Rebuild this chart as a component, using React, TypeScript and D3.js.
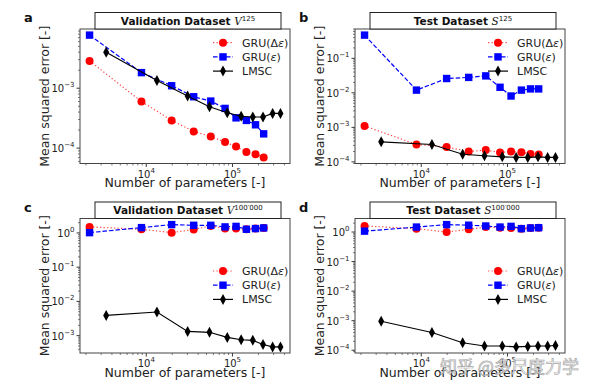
import React, { useRef, useEffect } from "react";
import * as d3 from "d3";

// number of parameters (x) for both model families
const paramsGru = [2.2e3, 8.8e3, 1.97e4, 3.55e4, 5.6e4, 8.2e4, 1.1e5, 1.45e5, 1.85e5, 2.3e5];
const paramsLmsc = [3.43e3, 1.33e4, 3.02e4, 5.41e4, 8.7e4, 1.26e5, 1.72e5, 2.26e5, 2.92e5, 3.6e5];

// a: validation V125
const valShortDe = [2.85e-3, 6.0e-4, 2.9e-4, 1.9e-4, 1.56e-4, 1.26e-4, 1.06e-4, 8.6e-5, 7.9e-5, 7.0e-5];
const valShortE = [7.7e-3, 1.82e-3, 1.1e-3, 7.2e-4, 6.1e-4, 4.6e-4, 3.2e-4, 2.9e-4, 2.45e-4, 1.73e-4];
const valShortLmsc = [4.0e-3, 1.34e-3, 7.4e-4, 4.9e-4, 3.9e-4, 3.4e-4, 3.3e-4, 3.3e-4, 3.8e-4, 3.8e-4];

// b: test S125
const testShortDe = [1.1e-3, 3.2e-4, 2.7e-4, 2.0e-4, 2.2e-4, 1.87e-4, 2.0e-4, 1.9e-4, 1.7e-4, 1.65e-4];
const testShortE = [0.47, 1.2e-2, 2.6e-2, 2.8e-2, 3.1e-2, 1.45e-2, 8.1e-3, 1.2e-2, 1.3e-2, 1.3e-2];
const testShortLmsc = [3.8e-4, 3.2e-4, 1.66e-4, 1.5e-4, 1.4e-4, 1.35e-4, 1.35e-4, 1.4e-4, 1.35e-4, 1.35e-4];

// c: validation V100'000
const valLongDe = [1.5, 1.28, 1.02, 1.26, 1.6, 1.34, 1.34, 1.28, 1.34, 1.4];
const valLongE = [1.02, 1.43, 1.75, 1.67, 1.67, 1.5, 1.55, 1.28, 1.34, 1.4];
const valLongLmsc = [3.9e-3, 4.9e-3, 1.33e-3, 1.25e-3, 8.9e-4, 7.6e-4, 7.3e-4, 5.5e-4, 4.7e-4, 4.7e-4];

// d: test S100'000
const testLongDe = [1.6, 1.3, 1.0, 1.23, 1.47, 1.4, 1.37, 1.3, 1.37, 1.4];
const testLongE = [1.07, 1.47, 1.78, 1.7, 1.6, 1.47, 1.55, 1.3, 1.37, 1.4];
const testLongLmsc = [9.6e-4, 4.0e-4, 1.8e-4, 1.4e-4, 1.4e-4, 1.3e-4, 1.35e-4, 1.4e-4, 1.4e-4, 1.45e-4];

const xLabel = "Number of parameters [-]";
const yLabel = "Mean squared error [-]";

const panels = [
  { id: "a", left: 80, top: 29, name: "Validation Dataset ", sym: "V", sup: "125", de: valShortDe, e: valShortE, lmsc: valShortLmsc, legTop: 42.7 },
  { id: "b", left: 355, top: 29, name: "Test Dataset ", sym: "S", sup: "125", de: testShortDe, e: testShortE, lmsc: testShortLmsc, legTop: 42.7 },
  { id: "c", left: 80, top: 218.5, name: "Validation Dataset ", sym: "V", sup: "100\u2032000", de: valLongDe, e: valLongE, lmsc: valLongLmsc, legTop: 271 },
  { id: "d", left: 355, top: 218.5, name: "Test Dataset ", sym: "S", sup: "100\u2032000", de: testLongDe, e: testLongE, lmsc: testLongLmsc, legTop: 271 },
];

const W = 210;
const H = 134.5;
const font = "DejaVu Sans, sans-serif";

// log domain with matplotlib-like 5% margin
function logDomain(vals: number[]) {
  const lo = Math.log10(d3.min(vals)!);
  const hi = Math.log10(d3.max(vals)!);
  const m = (hi - lo) * 0.05;
  return [Math.pow(10, lo - m), Math.pow(10, hi + m)];
}

function supLabel(sel: any, exp: number) {
  sel.append("tspan").text("10");
  sel.append("tspan").attr("dy", -5).attr("font-size", "7px")
    .text(exp < 0 ? "\u2212" + Math.abs(exp) : String(exp));
}

function App() {
  const svgRef = useRef<SVGSVGElement>(null);

  useEffect(() => {
    const svg = d3.select(svgRef.current);
    svg.selectAll("*").remove();

    const xDom = logDomain([...paramsGru, ...paramsLmsc]);

    panels.forEach((p) => {
      const g = svg.append("g").attr("transform", `translate(${p.left},${p.top})`);
      const x = d3.scaleLog().domain(xDom).range([0, W]);
      const y = d3.scaleLog().domain(logDomain([...p.de, ...p.e, ...p.lmsc])).range([H, 0]);

      // ticks
      const [x0, x1] = x.domain().map(Math.log10);
      for (let k = Math.floor(x0); k <= Math.ceil(x1); k++) {
        for (let s = 1; s < 10; s++) {
          const v = s * Math.pow(10, k);
          if (Math.log10(v) < x0 || Math.log10(v) > x1) continue;
          const len = s === 1 ? 3.5 : 2;
          g.append("line").attr("x1", x(v)).attr("x2", x(v)).attr("y1", H).attr("y2", H + len)
            .attr("stroke", "#222").attr("stroke-width", s === 1 ? 0.9 : 0.6);
          if (s === 1) {
            const t = g.append("text").attr("x", x(v)).attr("y", H + 14).attr("text-anchor", "middle")
              .attr("font-family", font).attr("font-size", "10px").attr("fill", "#222");
            supLabel(t, k);
          }
        }
      }
      const [y0, y1] = y.domain().map(Math.log10);
      for (let k = Math.floor(y0); k <= Math.ceil(y1); k++) {
        for (let s = 1; s < 10; s++) {
          const v = s * Math.pow(10, k);
          if (Math.log10(v) < y0 || Math.log10(v) > y1) continue;
          const len = s === 1 ? 3.5 : 2;
          g.append("line").attr("x1", 0).attr("x2", -len).attr("y1", y(v)).attr("y2", y(v))
            .attr("stroke", "#222").attr("stroke-width", s === 1 ? 0.9 : 0.6);
          if (s === 1) {
            const t = g.append("text").attr("x", -5.5).attr("y", y(v) + 4).attr("text-anchor", "end")
              .attr("font-family", font).attr("font-size", "10px").attr("fill", "#222");
            supLabel(t, k);
          }
        }
      }

      const series = [
        { xs: paramsGru, ys: p.de, color: "#ff0000", dash: "1.3,2.2", marker: "circle" },
        { xs: paramsGru, ys: p.e, color: "#0000ff", dash: "4.5,2", marker: "square" },
        { xs: paramsLmsc, ys: p.lmsc, color: "#000000", dash: null, marker: "diamond" },
      ];
      const line = d3.line<[number, number]>().x((d) => x(d[0])).y((d) => y(d[1]));

      const drawMarker = (sel: any, kind: string, cx: number, cy: number, color: string) => {
        if (kind === "circle") sel.append("circle").attr("cx", cx).attr("cy", cy).attr("r", 4).attr("fill", color);
        else if (kind === "square") sel.append("rect").attr("x", cx - 3.7).attr("y", cy - 3.7).attr("width", 7.4).attr("height", 7.4).attr("fill", color);
        else sel.append("path").attr("d", `M${cx},${cy - 5.5}L${cx + 3},${cy}L${cx},${cy + 5.5}L${cx - 3},${cy}Z`).attr("fill", color);
      };

      series.forEach((s) => {
        const pts = s.xs.map((v, i) => [v, s.ys[i]] as [number, number]);
        g.append("path").attr("d", line(pts)).attr("fill", "none").attr("stroke", s.color)
          .attr("stroke-width", s.dash ? 1.2 : 1.1).attr("stroke-dasharray", s.dash)
          .attr("opacity", s.marker === "circle" ? 0.7 : 1);
        pts.forEach((d) => drawMarker(g, s.marker, x(d[0]), y(d[1]), s.color));
      });

      // frame
      g.append("rect").attr("width", W).attr("height", H).attr("fill", "none")
        .attr("stroke", "#444").attr("stroke-width", 1);

      // legend
      const names = ["GRU(\u0394", "GRU(", "LMSC"];
      series.forEach((s, i) => {
        const ly = p.legTop - p.top + i * 14.2;
        g.append("line").attr("x1", 133).attr("x2", 153).attr("y1", ly).attr("y2", ly)
          .attr("stroke", s.color).attr("stroke-width", 1.2).attr("stroke-dasharray", s.dash)
          .attr("opacity", s.marker === "circle" ? 0.7 : 1);
        drawMarker(g, s.marker, 143, ly, s.color);
        const t = g.append("text").attr("x", 162).attr("y", ly + 4).attr("font-family", font)
          .attr("font-size", "11px").attr("fill", "#222");
        t.append("tspan").text(names[i]);
        if (i < 2) {
          t.append("tspan").attr("font-style", "italic").text("\u03b5");
          t.append("tspan").text(")");
        }
      });

      // title box
      svg.append("rect").attr("x", p.left + 15).attr("y", p.top - 16.5).attr("width", 186).attr("height", 16.5)
        .attr("fill", "#fff").attr("stroke", "#222").attr("stroke-width", 1);
      const tt = svg.append("text").attr("x", p.left + 108).attr("y", p.top - 4.5).attr("text-anchor", "middle")
        .attr("font-family", font).attr("font-size", "10.5px").attr("font-weight", "bold").attr("fill", "#111");
      tt.append("tspan").text(p.name);
      tt.append("tspan").attr("font-family", "DejaVu Serif, serif").attr("font-style", "italic")
        .attr("font-weight", "normal").text(p.sym);
      tt.append("tspan").attr("dy", -4).attr("font-size", "7px").attr("font-weight", "normal").text(p.sup);

      // panel letter
      svg.append("text").attr("x", p.left - 56).attr("y", p.top - 7).attr("font-family", font)
        .attr("font-size", "13px").attr("font-weight", "bold").attr("fill", "#111").text(p.id);

      // axis labels
      svg.append("text").attr("x", p.left + W / 2).attr("y", p.top + H + 23.5).attr("text-anchor", "middle")
        .attr("font-family", font).attr("font-size", "12.5px").attr("fill", "#222").text(xLabel);
      svg.append("text").attr("transform", `translate(${p.left - 31},${p.top + H / 2}) rotate(-90)`)
        .attr("text-anchor", "middle").attr("font-family", font).attr("font-size", "12.5px")
        .attr("fill", "#222").text(yLabel);
    });

    // watermark
    svg.append("text").attr("x", 440).attr("y", 373).attr("font-family", "Noto Sans CJK SC, sans-serif")
      .attr("font-size", "17px").attr("fill", "#fff").attr("stroke", "#999").attr("stroke-width", 0.7)
      .attr("opacity", 0.85).text("知乎 @多尺度力学");
  }, []);

  return (
    <svg ref={svgRef} width={600} height={392}
      style={{ position: "absolute", left: 0, top: 0, background: "#fff" }} />
  );
}

export default App;
